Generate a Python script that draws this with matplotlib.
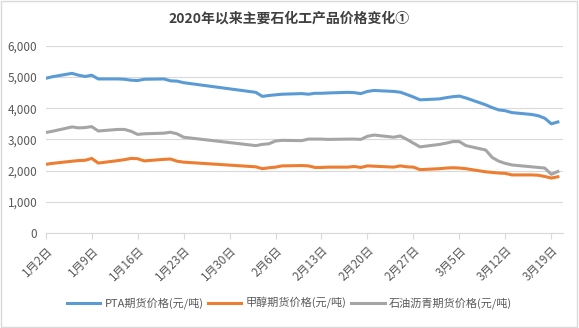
import matplotlib
matplotlib.use('Agg')
import matplotlib.pyplot as plt
import pandas as pd

plt.rcParams['font.family'] = ['Noto Sans CJK SC', 'DejaVu Sans']

# trading days, 2020
dates = ['01-02', '01-03', '01-06', '01-07', '01-08', '01-09', '01-10',
         '01-13', '01-14', '01-15', '01-16', '01-17',
         '01-20', '01-21', '01-22', '01-23',
         '02-03', '02-04', '02-05', '02-06', '02-07',
         '02-10', '02-11', '02-12', '02-13', '02-14',
         '02-17', '02-18', '02-19', '02-20', '02-21',
         '02-24', '02-25', '02-26', '02-27', '02-28',
         '03-02', '03-03', '03-04', '03-05', '03-06',
         '03-09', '03-10', '03-11', '03-12', '03-13',
         '03-16', '03-17', '03-18', '03-19', '03-20']

pta = [4960, 5010, 5120, 5060, 5020, 5060, 4940,
       4940, 4930, 4900, 4890, 4930,
       4940, 4880, 4870, 4820,
       4510, 4380, 4410, 4430, 4450,
       4470, 4450, 4480, 4480, 4490,
       4510, 4500, 4470, 4540, 4570,
       4540, 4515, 4440, 4360, 4270,
       4300, 4340, 4370, 4390, 4330,
       4110, 4020, 3946, 3920, 3860,
       3800, 3760, 3680, 3500, 3560]

methanol = [2200, 2230, 2300, 2320, 2330, 2390, 2240,
            2320, 2350, 2390, 2380, 2310,
            2360, 2370, 2300, 2270,
            2120, 2060, 2090, 2110, 2150,
            2160, 2150, 2100, 2100, 2110,
            2110, 2130, 2100, 2150, 2140,
            2110, 2150, 2120, 2110, 2030,
            2060, 2080, 2090, 2080, 2060,
            1960, 1940, 1920, 1910, 1860,
            1860, 1850, 1810, 1760, 1800]

asphalt = [3220, 3260, 3400, 3370, 3380, 3410, 3270,
           3320, 3320, 3260, 3160, 3180,
           3200, 3230, 3180, 3070,
           2800, 2840, 2860, 2950, 2970,
           2960, 3010, 3010, 3010, 3000,
           3010, 3010, 3000, 3100, 3140,
           3070, 3110, 3000, 2880, 2760,
           2840, 2880, 2930, 2930, 2800,
           2660, 2420, 2300, 2230, 2180,
           2120, 2100, 2080, 1880, 1970]

names = ['PTA期货价格(元/吨)', '甲醇期货价格(元/吨)', '石油沥青期货价格(元/吨)']
colors = ['#5b9bd5', '#ed7d31', '#a5a5a5']

x = pd.to_datetime(['2020-' + d for d in dates])

fig = plt.figure(figsize=(5.79, 3.28), dpi=100)
fig.patch.set_facecolor('white')
ax = fig.add_axes([0.079, 0.290, 0.893, 0.570])

for vals, name, c in zip([pta, methanol, asphalt], names, colors):
    ax.plot(x, vals, color=c, lw=2.2, label=name, solid_joinstyle='round')

ax.set_ylim(0, 6000)
ax.set_yticks(range(0, 6001, 1000))
ax.set_yticklabels([f'{v:,}' for v in range(0, 6001, 1000)])
ax.set_xlim(pd.Timestamp('2020-01-02'), pd.Timestamp('2020-03-20 18:00'))

ticks = pd.date_range('2020-01-02', '2020-03-19', freq='7D')
ax.set_xticks(ticks)
ax.set_xticklabels([f'{t.month}月{t.day}日' for t in ticks], rotation=45,
                   ha='right', rotation_mode='anchor')

ax.grid(axis='y', color='#d9d9d9', lw=0.8)
ax.set_axisbelow(True)
for s in ['top', 'right', 'left']:
    ax.spines[s].set_visible(False)
ax.spines['bottom'].set_color('#d9d9d9')
ax.tick_params(axis='y', length=0, labelsize=8.5, labelcolor='#595959', pad=6)
ax.tick_params(axis='x', length=4, color='#d9d9d9', labelsize=8.5,
               labelcolor='#595959', pad=4)

fig.text(0.5, 0.945, '2020年以来主要石化工产品价格变化①', ha='center', va='center',
         fontsize=10, fontweight='bold', color='#404040')

fig.legend(loc='center', bbox_to_anchor=(0.5, 0.075), ncol=3, frameon=False,
           fontsize=8, labelcolor='#595959', handlelength=3.0,
           columnspacing=0.4, handletextpad=0.4)

# chart border
fig.add_artist(plt.Rectangle((0.002, 0.003), 0.995, 0.993, transform=fig.transFigure,
                             fill=False, edgecolor='#d9d9d9', lw=1))

fig.savefig('out.png', dpi=100, facecolor='white')
